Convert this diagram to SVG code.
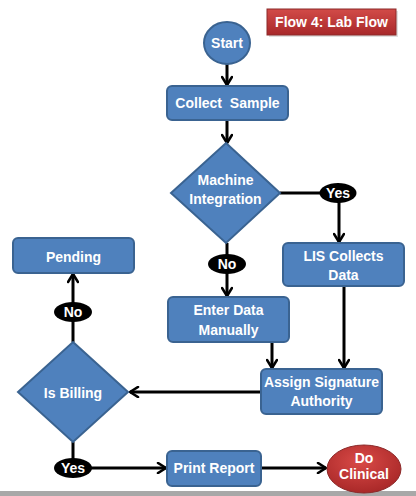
<svg xmlns="http://www.w3.org/2000/svg" width="416" height="496" viewBox="0 0 416 496">
<defs>
<linearGradient id="redg" x1="0" y1="0" x2="0" y2="1">
<stop offset="0" stop-color="#D24B48"/>
<stop offset="1" stop-color="#A8282A"/>
</linearGradient>
<radialGradient id="redr" cx="0.45" cy="0.35" r="0.7">
<stop offset="0" stop-color="#D94A47"/>
<stop offset="1" stop-color="#A62626"/>
</radialGradient>
<marker id="arr" viewBox="0 0 12 12" refX="10" refY="6" markerWidth="12" markerHeight="12" markerUnits="userSpaceOnUse" orient="auto">
<path d="M2,1 L10,6 L2,11" fill="none" stroke="#000" stroke-width="2.6" stroke-linecap="round" stroke-linejoin="round"/>
</marker>
</defs>
<style>
.node{fill:#4F81BD;stroke:#3A6391;stroke-width:2}
.red{stroke:#8C2A2A;stroke-width:1}
.t{font-family:"Liberation Sans",Arial,sans-serif;font-weight:bold;font-size:14px;fill:#fff;text-anchor:middle}
.c{fill:none;stroke:#000;stroke-width:3}
</style>
<rect x="0" y="0" width="416" height="496" fill="#fff"/>
<rect x="0" y="491" width="416" height="5" fill="#A8A8A8"/>
<g id="title">
<rect x="269" y="11" width="129" height="26" fill="#ccc" opacity="0.6"/>
<rect x="267" y="9" width="129" height="26" fill="url(#redg)" class="red"/>
<text x="331.5" y="27" class="t" font-size="14.5">Flow 4: Lab Flow</text>
</g>
<g id="connectors">
<line x1="227" y1="64" x2="227" y2="85" class="c" marker-end="url(#arr)"/>
<line x1="227" y1="120" x2="227" y2="143" class="c" marker-end="url(#arr)"/>
<polyline points="280,193 339,193 339,242" class="c" marker-end="url(#arr)"/>
<line x1="227" y1="243" x2="227" y2="296" class="c" marker-end="url(#arr)"/>
<line x1="272" y1="342" x2="272" y2="368" class="c" marker-end="url(#arr)"/>
<line x1="344" y1="286" x2="344" y2="368" class="c" marker-end="url(#arr)"/>
<line x1="261" y1="392" x2="130" y2="392" class="c" marker-end="url(#arr)"/>
<line x1="73" y1="342" x2="73" y2="274" class="c" marker-end="url(#arr)"/>
<polyline points="73,442 73,468 166,468" class="c" marker-end="url(#arr)"/>
<line x1="261" y1="468" x2="326" y2="468" class="c" marker-end="url(#arr)"/>
</g>
<g id="start">
<ellipse cx="227" cy="43" rx="23" ry="21" class="node"/>
<text x="227" y="48" class="t">Start</text>
</g>
<g id="collect">
<rect x="167" y="86" width="121" height="34" rx="5" class="node"/>
<text x="227.5" y="108" class="t" xml:space="preserve">Collect  Sample</text>
</g>
<g id="machine">
<polygon points="226,143 280,193 226,243 171,193" class="node"/>
<text x="225.5" y="185" class="t">Machine</text>
<text x="225.5" y="204" class="t">Integration</text>
</g>
<g id="yes1">
<ellipse cx="338" cy="193" rx="18.5" ry="10" fill="#000"/>
<text x="338" y="198" class="t">Yes</text>
</g>
<g id="no1">
<ellipse cx="227" cy="264" rx="19" ry="10" fill="#000"/>
<text x="227" y="269" class="t">No</text>
</g>
<g id="lis">
<rect x="283" y="243" width="121" height="43" rx="5" class="node"/>
<text x="343.5" y="261" class="t">LIS Collects</text>
<text x="343.5" y="280" class="t">Data</text>
</g>
<g id="enter">
<rect x="168" y="297" width="121" height="45" rx="5" class="node"/>
<text x="228.5" y="315" class="t">Enter Data</text>
<text x="228.5" y="335" class="t">Manually</text>
</g>
<g id="assign">
<rect x="261" y="369" width="121" height="45" rx="5" class="node"/>
<text x="321.5" y="387" class="t">Assign Signature</text>
<text x="321.5" y="406" class="t">Authority</text>
</g>
<g id="billing">
<polygon points="73,342 128,392 73,442 18,392" class="node"/>
<text x="73" y="398" class="t">Is Billing</text>
</g>
<g id="no2">
<ellipse cx="73" cy="312" rx="19" ry="10" fill="#000"/>
<text x="73" y="317" class="t">No</text>
</g>
<g id="pending">
<rect x="13" y="238" width="121" height="35" rx="5" class="node"/>
<text x="73.5" y="262" class="t">Pending</text>
</g>
<g id="yes2">
<ellipse cx="73" cy="468" rx="19" ry="10" fill="#000"/>
<text x="73" y="473" class="t">Yes</text>
</g>
<g id="print">
<rect x="167" y="451" width="94" height="35" rx="5" class="node"/>
<text x="214" y="473" class="t">Print Report</text>
</g>
<g id="clinical">
<ellipse cx="364" cy="469" rx="37" ry="24" fill="url(#redr)" class="red"/>
<text x="364" y="463" class="t">Do</text>
<text x="364" y="479" class="t">Clinical</text>
</g>
</svg>
